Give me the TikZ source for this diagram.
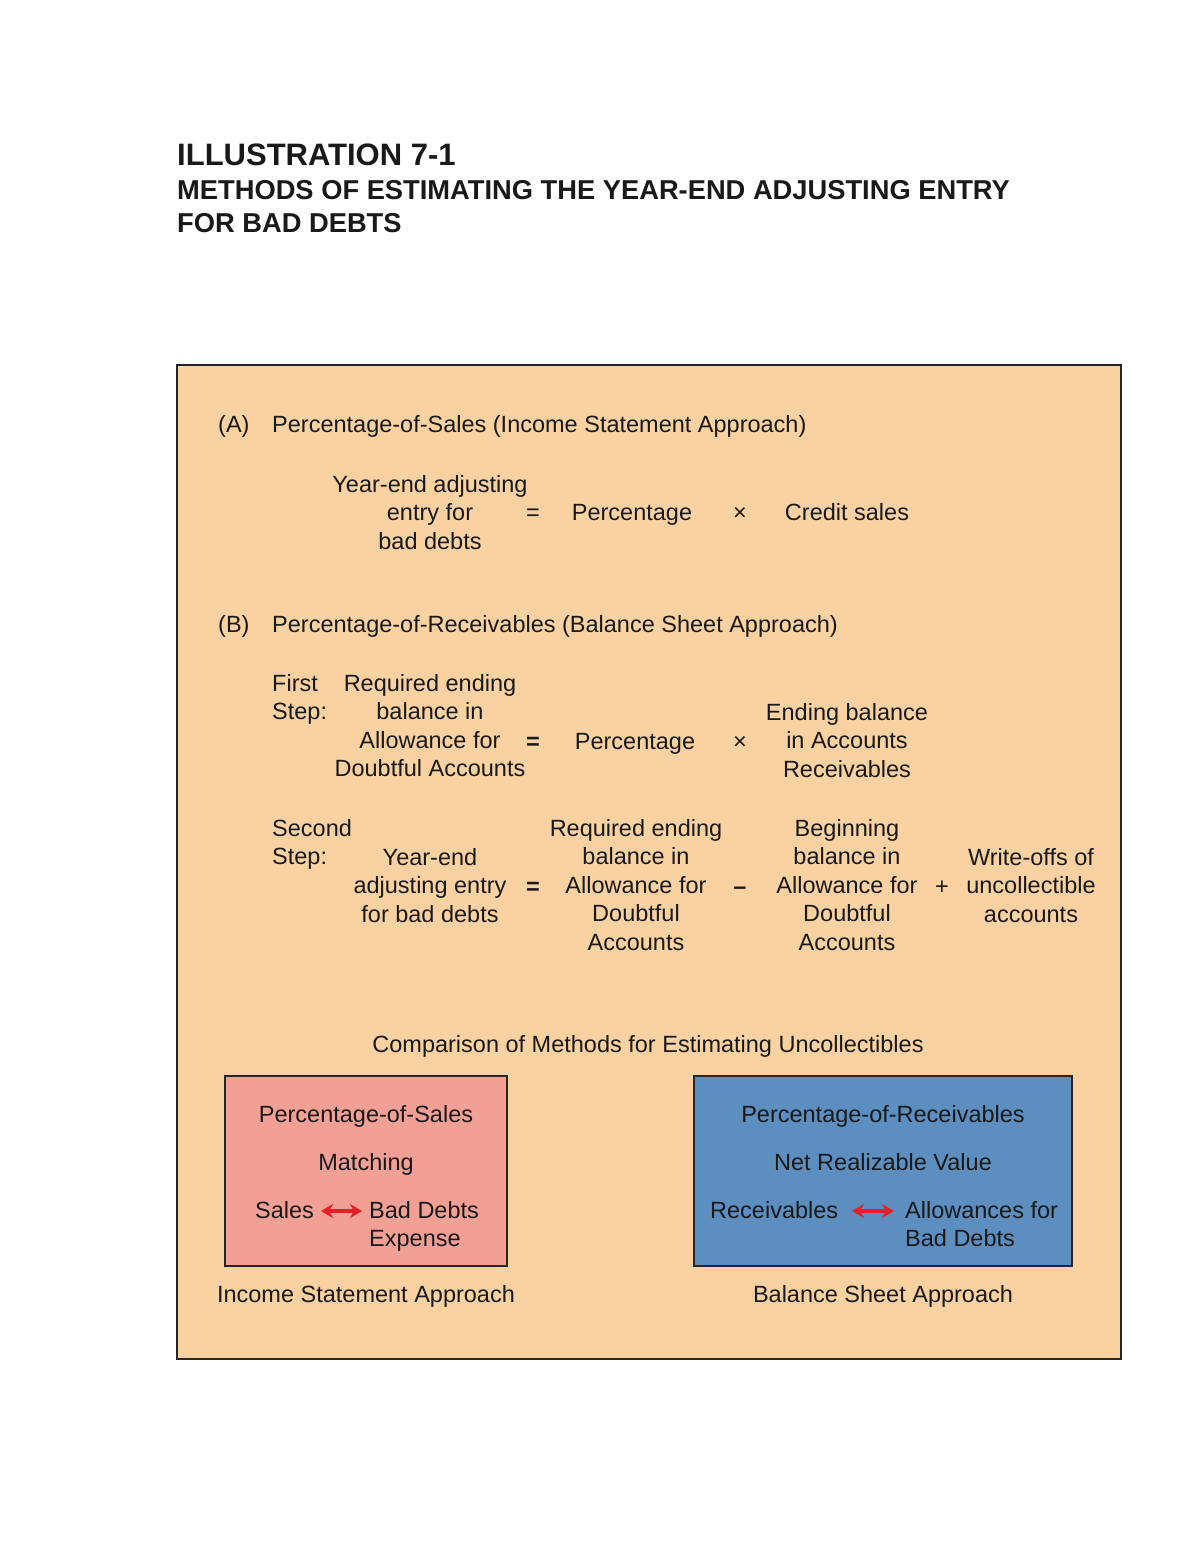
\documentclass[tikz,border=0pt]{standalone}
\usepackage{fontspec}
\setmainfont{Liberation Sans}
\usetikzlibrary{arrows.meta}
\definecolor{peach}{RGB}{250,209,160}
\definecolor{salmon}{RGB}{242,160,150}
\definecolor{steel}{RGB}{92,142,192}
\definecolor{arrred}{RGB}{230,30,40}
\newcommand\bodyfont{\fontsize{23.5}{28.5}\selectfont}
\begin{document}
\begin{tikzpicture}[x=1pt,y=-1pt,
  txt/.style={inner sep=0pt, anchor=base, align=center, font=\bodyfont, text=black!90},
  ltxt/.style={txt, anchor=base west, align=left},
  panel/.style={draw=black!85, line width=2.5pt},
  redarr/.style={draw=arrred, line width=4.5pt, {Stealth[length=12pt,width=14pt]}-{Stealth[length=12pt,width=14pt]}}]
\useasboundingbox (0,0) rectangle (1200,1553);
\fill[white] (0,0) rectangle (1200,1553);
% title (base anchor of a multi-line node = baseline of its last line)
\node[ltxt, font=\fontsize{31}{36}\selectfont\bfseries] (t1) at (177,165) {ILLUSTRATION 7-1};
\node[ltxt, font=\fontsize{27.3}{33}\selectfont\bfseries] (t2) at (177,232) {METHODS OF ESTIMATING THE YEAR-END ADJUSTING ENTRY\\FOR BAD DEBTS};
% main panel
\draw[panel, fill=peach] (177,365) rectangle (1121,1359);
% (A)
\node[ltxt] (la) at (218,432) {(A)};
\node[ltxt] (ha) at (272,432) {Percentage-of-Sales (Income Statement Approach)};
\node[txt] (a1) at (430,549) {Year-end adjusting\\entry for\\bad debts};
\node[txt] (aeq) at (533,520) {=};
\node[txt] (a2) at (632,520) {Percentage};
\node[txt] (atimes) at (740,520) {×};
\node[txt] (a3) at (847,520) {Credit sales};
% (B)
\node[ltxt] (lb) at (218,632) {(B)};
\node[ltxt] (hb) at (272,632) {Percentage-of-Receivables (Balance Sheet Approach)};
% first step
\node[ltxt] (fs) at (272,719.5) {First\\Step:};
\node[txt] (b1) at (430,776.5) {Required ending\\balance in\\Allowance for\\Doubtful Accounts};
\node[txt] (beq) at (533,749) {\textbf{=}};
\node[txt] (b2) at (635,749) {Percentage};
\node[txt] (btimes) at (740,749) {×};
\node[txt] (b3) at (847,777) {Ending balance\\in Accounts\\Receivables};
% second step
\node[ltxt] (ss) at (272,864.5) {Second\\Step:};
\node[txt] (c1) at (430,922) {Year-end\\adjusting entry\\for bad debts};
\node[txt] (ceq) at (533,894) {\textbf{=}};
\node[txt] (c2) at (636,950) {Required ending\\balance in\\Allowance for\\Doubtful\\Accounts};
\node[txt] (cminus) at (740,894) {\textbf{--}};
\node[txt] (c3) at (847,950) {Beginning\\balance in\\Allowance for\\Doubtful\\Accounts};
\node[txt] (cplus) at (942,894) {+};
\node[txt] (c4) at (1031,922) {Write-offs of\\uncollectible\\accounts};
% comparison
\node[txt] (cmp) at (648,1052) {Comparison of Methods for Estimating Uncollectibles};
% pink box
\draw[panel, fill=salmon] (225,1076) rectangle (507,1266);
\node[txt] (p1) at (366,1122) {Percentage-of-Sales};
\node[txt] (p2) at (366,1170) {Matching};
\node[ltxt] (p3) at (255,1218) {Sales};
\node[ltxt] (p4) at (369,1246.5) {Bad Debts\\Expense};
\coordinate (pa1) at (321,1211);
\coordinate (pa2) at (362,1211);
\draw[redarr] (pa1) -- (pa2);
\node[txt] (pl) at (366,1302) {Income Statement Approach};
% blue box
\draw[panel, fill=steel] (694,1076) rectangle (1072,1266);
\node[txt] (q1) at (883,1122) {Percentage-of-Receivables};
\node[txt] (q2) at (883,1170) {Net Realizable Value};
\node[ltxt] (q3) at (710,1218) {Receivables};
\node[ltxt] (q4) at (905,1246.5) {Allowances for\\Bad Debts};
\coordinate (qa1) at (852,1211);
\coordinate (qa2) at (894,1211);
\draw[redarr] (qa1) -- (qa2);
\node[txt] (ql) at (883,1302) {Balance Sheet Approach};
\end{tikzpicture}
\end{document}
